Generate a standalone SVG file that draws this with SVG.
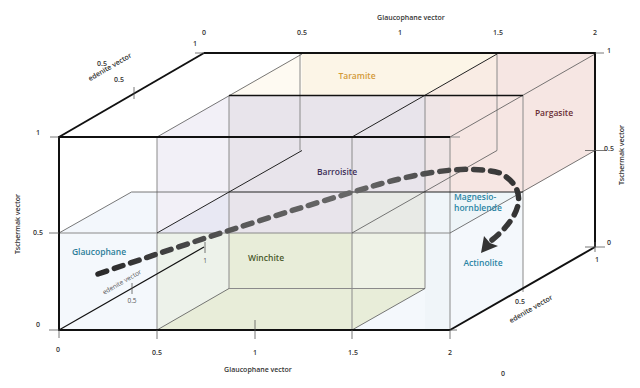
<svg xmlns="http://www.w3.org/2000/svg" width="640" height="388" viewBox="0 0 640 388">
<defs>
<style>
.num{font-family:"Open Sans","Liberation Sans",sans-serif;font-size:7px;font-weight:600;fill:#333;text-anchor:middle}
.sm{font-family:"Open Sans","Liberation Sans",sans-serif;font-size:6.5px;fill:#555;text-anchor:middle}
.min{font-family:"Open Sans","Liberation Sans",sans-serif;font-size:8.5px;font-weight:600;text-anchor:middle}
.thick{stroke:#111;stroke-width:2;fill:none}
.med{stroke:#222;stroke-width:1;fill:none}
.thin{stroke:#555;stroke-width:0.8;fill:none}
.gray{stroke:#8a8a8a;stroke-width:1;fill:none}
.tick{stroke:#555;stroke-width:0.8;fill:none}
</style>
<linearGradient id="dg" gradientUnits="userSpaceOnUse" x1="98" y1="0" x2="520" y2="0">
<stop offset="0" stop-color="#2a2a2a"/>
<stop offset="0.35" stop-color="#5a5a5a"/>
<stop offset="0.6" stop-color="#686868"/>
<stop offset="0.85" stop-color="#444"/>
<stop offset="1" stop-color="#333"/>
</linearGradient>
</defs>
<rect width="640" height="388" fill="#fff"/>
<g id="fills">
<polygon points="229,95.5 302,54 497,54 425,95.5" fill="#fcf5e7"/>
<polygon points="229,95.5 302,54 302,95.5" fill="#fefaf2"/>
<polygon points="425,95.5 497,54 595,54 595,150.5 523,192 425,192" fill="#f6e6e3"/>
<polygon points="425,95.5 497,54 497,95.5" fill="#f9ece4"/>
<rect x="229" y="95.5" width="196" height="137.5" fill="#e8e4eb"/>
<rect x="425" y="95.5" width="25" height="96.5" fill="#efe5e6"/>
<polygon points="157,137 229,95.5 229,233 157,233" fill="#f2f0f7"/>
<polygon points="157,233 229,192 229,233" fill="#e8e8f3"/>
<polygon points="59,233 131.5,192 157,192 157,233" fill="#f3f7fc"/>
<rect x="59" y="233" width="98" height="97" fill="#f4f8fc"/>
<rect x="157" y="233" width="72" height="97" fill="#edf2ea"/>
<rect x="229" y="233" width="123" height="97" fill="#e8edd9"/>
<polygon points="157,330 229,288.5 229,330" fill="#e8edd9"/>
<rect x="352" y="192" width="73" height="41" fill="#e8eae6"/>
<rect x="352" y="233" width="73" height="97" fill="#eef2e6"/>
<polygon points="352,288.5 425,288.5 352,330" fill="#e8edd9"/>
<polygon points="352,330 425,288.5 425,330" fill="#f4f8fc"/>
<rect x="425" y="192" width="25" height="138" fill="#f0f5f9"/>
<polygon points="450,192 523,192 523,288.5 450,330" fill="#f4f8fc"/>
<polygon points="450,192 523,192 450,233" fill="#eef5f8"/>
</g>
<g id="grid">
<line class="gray" x1="157" y1="137" x2="157" y2="330"/>
<line class="gray" x1="352" y1="137" x2="352" y2="330"/>
<line class="gray" x1="450" y1="137" x2="450" y2="330"/>
<line class="gray" x1="59" y1="233" x2="450" y2="233"/>
<line class="gray" x1="229" y1="95.5" x2="229" y2="288.5"/>
<line class="gray" x1="425" y1="95.5" x2="425" y2="288.5"/>
<line class="gray" x1="523" y1="95.5" x2="523" y2="292"/>
<line class="gray" x1="229" y1="288.5" x2="425" y2="288.5"/>
<line class="gray" x1="300" y1="53" x2="300" y2="150.5"/>
<line class="gray" x1="497" y1="53" x2="497" y2="150.5"/>
<line class="gray" x1="450" y1="137" x2="460" y2="137"/>
<line class="thin" x1="59" y1="233" x2="131.5" y2="192"/>
<line class="thin" x1="131.5" y1="192" x2="229" y2="192"/>
<line class="thin" x1="157" y1="137" x2="302" y2="54"/>
<line class="thin" x1="157" y1="330" x2="229" y2="288.5"/>
<line class="thin" x1="352" y1="330" x2="425" y2="288.5"/>
<line class="thin" x1="352" y1="233" x2="497" y2="150.5"/>
<line class="thin" x1="450" y1="137" x2="595" y2="54"/>
<line class="thin" x1="450" y1="233" x2="595" y2="150.5"/>
<line class="med" x1="229" y1="192" x2="523" y2="192"/>
<line class="med" x1="157" y1="233" x2="302" y2="150.5"/>
<line class="med" x1="352" y1="137" x2="497" y2="54"/>
<line stroke="#111" stroke-width="1.3" x1="229" y1="95.5" x2="523" y2="95.5"/>
<line stroke="#111" stroke-width="1.2" x1="59" y1="330" x2="204" y2="247"/>
</g>
<g id="frame">
<line class="thick" x1="59" y1="137" x2="450" y2="137"/>
<line class="thick" x1="59" y1="330" x2="450" y2="330"/>
<line class="thick" x1="59" y1="136" x2="59" y2="331"/>
<line class="thick" x1="59" y1="137" x2="204" y2="53"/>
<line class="thick" x1="204" y1="53" x2="595" y2="53"/>
<line class="thick" x1="595" y1="52" x2="595" y2="247"/>
<line class="thick" x1="450" y1="330" x2="595" y2="247"/>
</g>
<g id="ticks">
<line class="tick" x1="50" y1="137" x2="59" y2="137"/>
<line class="tick" x1="49" y1="233" x2="59" y2="233"/>
<line class="tick" x1="49" y1="330" x2="59" y2="330"/>
<line class="tick" x1="59" y1="330" x2="59" y2="338"/>
<line class="tick" x1="157" y1="330" x2="157" y2="339"/>
<line class="tick" x1="255" y1="320" x2="255" y2="339"/>
<line class="tick" x1="352" y1="330" x2="352" y2="339"/>
<line class="tick" x1="450" y1="330" x2="450" y2="339"/>
<line class="tick" x1="450" y1="330" x2="457" y2="330"/>
<line class="tick" x1="134" y1="87" x2="134" y2="99"/>
<line class="tick" x1="195" y1="53" x2="204" y2="53"/>
<line class="tick" x1="595" y1="53" x2="604" y2="53"/>
<line class="tick" x1="585" y1="150.5" x2="605" y2="150.5"/>
<line class="tick" x1="585" y1="247" x2="605" y2="247"/>
<line class="tick" x1="595" y1="242" x2="595" y2="252"/>
<line class="tick" x1="132" y1="283" x2="132" y2="294"/>
<line class="tick" x1="205" y1="242" x2="205" y2="253"/>
</g>
<g id="axis-labels">
<text class="num" x="411" y="20">Glaucophane vector</text>
<text class="num" x="204" y="35">0</text>
<text class="num" x="302" y="35">0.5</text>
<text class="num" x="400" y="35">1</text>
<text class="num" x="498" y="35">1.5</text>
<text class="num" x="595" y="35">2</text>
<text class="num" x="195" y="46">1</text>
<text class="num" x="102" y="66">0.5</text>
<text class="num" transform="translate(111,69) rotate(-30)">edenite vector</text>
<text class="num" x="119" y="82">0.5</text>
<text class="num" x="38" y="135">1</text>
<text class="num" x="38" y="235">0.5</text>
<text class="num" x="38" y="327">0</text>
<text class="num" transform="translate(20,224) rotate(-90)">Tschermak vector</text>
<text class="num" x="58" y="352">0</text>
<text class="num" x="157" y="355">0.5</text>
<text class="num" x="255" y="355">1</text>
<text class="num" x="353" y="355">1.5</text>
<text class="num" x="450" y="355">2</text>
<text class="num" x="258" y="372">Glaucophane vector</text>
<text class="sm" transform="translate(123,284) rotate(-30)">edenite vector</text>
<text class="sm" x="132" y="303">0.5</text>
<text class="sm" x="205" y="263">1</text>
<text class="num" x="609" y="53">1</text>
<text class="num" x="609" y="151">0.5</text>
<text class="num" x="609" y="245">0</text>
<text class="num" x="597" y="262">1</text>
<text class="num" transform="translate(624,155) rotate(-90)">Tschermak vector</text>
<text class="num" x="520" y="304">0.5</text>
<text class="num" transform="translate(532,311) rotate(-30)">edenite vector</text>
<text class="num" x="503" y="376">0</text>
</g>
<g id="taramite"><text class="min" x="357" y="79" fill="#d39a38">Taramite</text></g>
<g id="pargasite"><text class="min" x="554" y="116" fill="#6a2e35">Pargasite</text></g>
<g id="barroisite"><text class="min" x="337" y="175" fill="#3d2f58">Barroisite</text></g>
<g id="glaucophane"><text class="min" x="99" y="255" fill="#2b7d98">Glaucophane</text></g>
<g id="winchite"><text class="min" x="266" y="261" fill="#4b5a2c">Winchite</text></g>
<g id="magnesio-hornblende"><text class="min" x="454" y="200" fill="#2b85a5" style="text-anchor:start">Magnesio-</text><text class="min" x="454" y="211" fill="#2b85a5" style="text-anchor:start">hornblende</text></g>
<g id="actinolite"><text class="min" x="483" y="266" fill="#2b85a5">Actinolite</text></g>
<g id="connectors">
<path d="M98,274 Q250,222 380,184 Q460,162 500,173 Q522,185 518,205 Q514,222 492,240" fill="none" stroke="url(#dg)" stroke-width="5.5" stroke-linecap="round" stroke-dasharray="9 8"/>
<polygon points="481,253 484,236 490,243 498,246" fill="#333"/>
</g>
</svg>
